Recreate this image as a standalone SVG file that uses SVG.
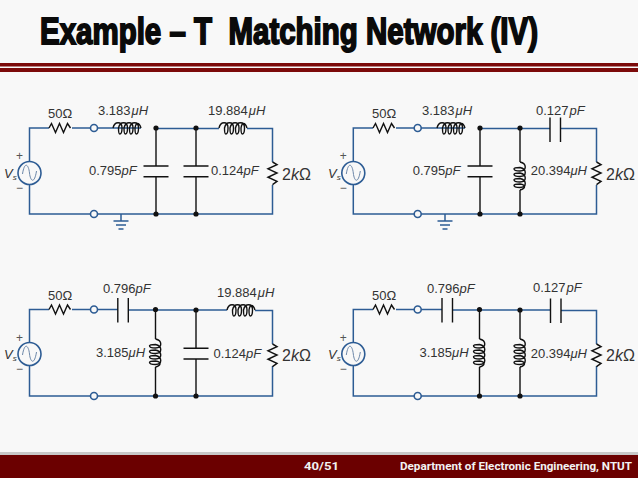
<svg xmlns="http://www.w3.org/2000/svg" width="638" height="478" viewBox="0 0 638 478">
<style>
.w{fill:none;stroke:#2d5c94;stroke-width:1.5}
.b{fill:none;stroke:#111;stroke-width:1.4}
.t{font-family:"Liberation Sans",Arial,sans-serif;font-size:13px;fill:#333}
.big{font-size:16px}
.i{font-style:italic}
.s{font-family:"Liberation Sans",Arial,sans-serif;font-size:12px;fill:#555}
.title{font-family:"Liberation Sans",Arial,sans-serif;font-weight:700;font-size:30px;fill:#0a0a0a;stroke:#0a0a0a;stroke-width:1.500}
.foot{font-family:Roboto,"Liberation Sans",sans-serif;font-weight:700;font-size:10.500px;fill:#f2f2f2}
</style>
<defs>
<g id="res"><path class="b" d="M0 0l2.500-4.500 4 9 4-9 4 9 4-9 3 4.500"/></g>
<g id="ind"><path class="b" d="M0 0c1.500-7 9-7 9 0c0 4-1.200 6-2.200 6s-1.300-2-1.300-6c1.500-7 9-7 9 0c0 4-1.200 6-2.200 6s-1.300-2-1.300-6c1.500-7 9-7 9 0c0 4-1.200 6-2.200 6s-1.300-2-1.300-6c1.500-7 9-7 9 0c0 4-1.200 6-2.200 6s-1.300-2-1.300-6c1-6 4-6 6 0"/></g>
<g id="capv"><path class="b" d="M-12.500 0h25M-12.500 10.700h25"/></g>
<g id="caph"><path class="b" d="M0-12v24.500M10.500-12v24.500"/></g>
<circle id="dot" r="2.600" fill="#111"/>
<circle id="port" r="3.500" fill="#f8f8f8" stroke="#2d5c94" stroke-width="1.600"/>
<g id="src"><circle r="11.500" fill="#f8f8f8" stroke="#2d5c94" stroke-width="1.600"/><path d="M-7 1C-5-12-1-9 0 0S5 11 7-2" fill="none" stroke="#6b86a8" stroke-width="1"/></g>
<g id="gnd"><path class="w" d="M0 0v7M-7.500 7h15M-5 11h10M-2.500 15h5"/></g>
</defs>
<rect width="638" height="478" fill="#f8f8f8"/>
<g id="header">
<text class="title" transform="translate(40 43.700) scale(1 1.200)" textLength="498" lengthAdjust="spacingAndGlyphs">Example – T&#160; Matching Network (IV)</text>
<rect x="0" y="63" width="638" height="3.500" fill="#7c0a0a"/>
<rect x="0" y="68" width="638" height="4" fill="#7c0a0a"/>
</g>
<g id="footer">
<rect x="0" y="452" width="638" height="3" fill="#c8c8c8"/>
<rect x="0" y="455" width="638" height="23" fill="#6b0000"/>
<text class="foot" x="304" y="470" textLength="35" lengthAdjust="spacingAndGlyphs">40/51</text>
<text class="foot" x="400" y="470" textLength="232" lengthAdjust="spacingAndGlyphs">Department of Electronic Engineering, NTUT</text>
</g>
<g id="connectors">
<path class="w" d="M49 128H29.500V214H272.500V185M272.500 162V128.500H247M219 128.500H156M141 128H72"/>
<path class="b" d="M156 128.500V166M156 177V214M196 128.500V166M196 177V214"/>
<path class="w" d="M373 128H353.300V214H596.500V185M596.500 162V128.500H561M550 128.500H480M465 128H396"/>
<path class="b" d="M480 128.500V166M480 177V214M520 128.500V162M520 190V214"/>
<path class="w" d="M49 309.500H29.500V396H272.500V366M272.500 344V310.500H255M227 310H128.500M117.800 309.500H72"/>
<path class="b" d="M155.500 310V339M155.500 367V396M196 310V348M196 359V396"/>
<path class="w" d="M373 309.500H353.300V396H596.500V366M596.500 344V310.500H561M550.500 310H452.500M442 309.500H396"/>
<path class="b" d="M479.500 310V339M479.500 367V396M520 310V339M520 367V396"/>
</g>
<g id="circuit-1">
<g id="c1-source"><use href="#src" x="29.500" y="173"/><text class="s" x="16" y="160">+</text><text class="s" x="16" y="192">−</text><text class="t i" x="4" y="178">V<tspan font-size="8" dy="2">s</tspan></text></g>
<g id="c1-rs"><use href="#res" x="49" y="128"/><text class="t" x="48" y="118">50Ω</text></g>
<g id="c1-port-top"><use href="#port" x="94" y="128"/></g>
<g id="c1-port-bottom"><use href="#port" x="94" y="214"/></g>
<g id="c1-l1"><use href="#ind" x="113" y="128"/><text class="t" x="98" y="115">3.183<tspan class="i" dx="1">μH</tspan></text></g>
<g id="c1-c1"><use href="#capv" x="156" y="166"/><text class="t" x="89" y="175">0.795<tspan class="i">pF</tspan></text></g>
<g id="c1-c2"><use href="#capv" x="196" y="166"/><text class="t" x="211" y="175">0.124<tspan class="i">pF</tspan></text></g>
<g id="c1-l2"><use href="#ind" x="219" y="128"/><text class="t" x="208" y="115">19.884<tspan class="i" dx="1">μH</tspan></text></g>
<g id="c1-load"><use href="#res" transform="translate(272.500 162) rotate(90) scale(1.050 1)"/><text class="t big" x="282" y="179.500">2<tspan class="i">k</tspan>Ω</text></g>
<g id="c1-gnd"><use href="#gnd" x="121" y="214"/></g>
<g id="c1-dots"><use href="#dot" x="156" y="128"/><use href="#dot" x="196" y="128"/><use href="#dot" x="156" y="214"/><use href="#dot" x="196" y="214"/></g>
</g>
<g id="circuit-2">
<g id="c2-source"><use href="#src" x="353.300" y="173"/><text class="s" x="339.800" y="160">+</text><text class="s" x="339.800" y="192">−</text><text class="t i" x="328" y="178">V<tspan font-size="8" dy="2">s</tspan></text></g>
<g id="c2-rs"><use href="#res" x="373" y="128"/><text class="t" x="372" y="118">50Ω</text></g>
<g id="c2-port-top"><use href="#port" x="417.700" y="128"/></g>
<g id="c2-port-bottom"><use href="#port" x="417.700" y="214"/></g>
<g id="c2-l1"><use href="#ind" x="437" y="128"/><text class="t" x="422" y="115">3.183<tspan class="i" dx="1">μH</tspan></text></g>
<g id="c2-c1"><use href="#capv" x="480" y="166"/><text class="t" x="412.700" y="175">0.795<tspan class="i">pF</tspan></text></g>
<g id="c2-l2"><use href="#ind" transform="translate(520 162) rotate(90)"/><text class="t" x="530.700" y="175">20.394<tspan class="i">μH</tspan></text></g>
<g id="c2-c2"><use href="#caph" x="550" y="129.500"/><text class="t" x="536" y="115">0.127<tspan class="i" dx="1">pF</tspan></text></g>
<g id="c2-load"><use href="#res" transform="translate(596.500 162) rotate(90) scale(1.050 1)"/><text class="t big" x="606" y="179.500">2<tspan class="i">k</tspan>Ω</text></g>
<g id="c2-gnd"><use href="#gnd" x="445" y="214"/></g>
<g id="c2-dots"><use href="#dot" x="480" y="128"/><use href="#dot" x="520" y="128"/><use href="#dot" x="480" y="214"/><use href="#dot" x="520" y="214"/></g>
</g>
<g id="circuit-3">
<g id="c3-source"><use href="#src" x="29.500" y="354"/><text class="s" x="16" y="341.700">+</text><text class="s" x="16" y="373.300">−</text><text class="t i" x="4" y="359">V<tspan font-size="8" dy="2">s</tspan></text></g>
<g id="c3-rs"><use href="#res" x="49" y="309.500"/><text class="t" x="48" y="300">50Ω</text></g>
<g id="c3-port-top"><use href="#port" x="94" y="309.500"/></g>
<g id="c3-port-bottom"><use href="#port" x="94" y="396"/></g>
<g id="c3-c1"><use href="#caph" x="117.800" y="310"/><text class="t" x="103" y="292.700">0.796<tspan class="i">pF</tspan></text></g>
<g id="c3-l1"><use href="#ind" transform="translate(155.500 339) rotate(90)"/><text class="t" x="96" y="356.700">3.185<tspan class="i">μH</tspan></text></g>
<g id="c3-c2"><use href="#capv" x="196" y="348.300"/><text class="t" x="213.500" y="358">0.124<tspan class="i">pF</tspan></text></g>
<g id="c3-l2"><use href="#ind" x="227" y="310"/><text class="t" x="217" y="297">19.884<tspan class="i" dx="1">μH</tspan></text></g>
<g id="c3-load"><use href="#res" transform="translate(272.500 344) rotate(90) scale(1.050 1)"/><text class="t big" x="282" y="360.700">2<tspan class="i">k</tspan>Ω</text></g>
<g id="c3-dots"><use href="#dot" x="155.500" y="309.500"/><use href="#dot" x="196" y="310"/><use href="#dot" x="155.500" y="396"/><use href="#dot" x="196" y="396"/></g>
</g>
<g id="circuit-4">
<g id="c4-source"><use href="#src" x="353.300" y="354"/><text class="s" x="339.800" y="341.700">+</text><text class="s" x="339.800" y="373.300">−</text><text class="t i" x="328" y="359">V<tspan font-size="8" dy="2">s</tspan></text></g>
<g id="c4-rs"><use href="#res" x="373" y="309.500"/><text class="t" x="372" y="300">50Ω</text></g>
<g id="c4-port-top"><use href="#port" x="417.700" y="309.500"/></g>
<g id="c4-port-bottom"><use href="#port" x="417.700" y="396"/></g>
<g id="c4-c1"><use href="#caph" x="442" y="310"/><text class="t" x="427" y="292.700">0.796<tspan class="i">pF</tspan></text></g>
<g id="c4-l1"><use href="#ind" transform="translate(479.500 339) rotate(90)"/><text class="t" x="419.500" y="356.700">3.185<tspan class="i">μH</tspan></text></g>
<g id="c4-l2"><use href="#ind" transform="translate(520 339) rotate(90)"/><text class="t" x="530.700" y="358">20.394<tspan class="i">μH</tspan></text></g>
<g id="c4-c2"><use href="#caph" x="550.500" y="310.500"/><text class="t" x="533" y="291.700">0.127<tspan class="i" dx="1">pF</tspan></text></g>
<g id="c4-load"><use href="#res" transform="translate(596.500 344) rotate(90) scale(1.050 1)"/><text class="t big" x="606" y="360.700">2<tspan class="i">k</tspan>Ω</text></g>
<g id="c4-dots"><use href="#dot" x="479.500" y="309.500"/><use href="#dot" x="520" y="310"/><use href="#dot" x="479.500" y="396"/><use href="#dot" x="520" y="396"/></g>
</g>
</svg>
